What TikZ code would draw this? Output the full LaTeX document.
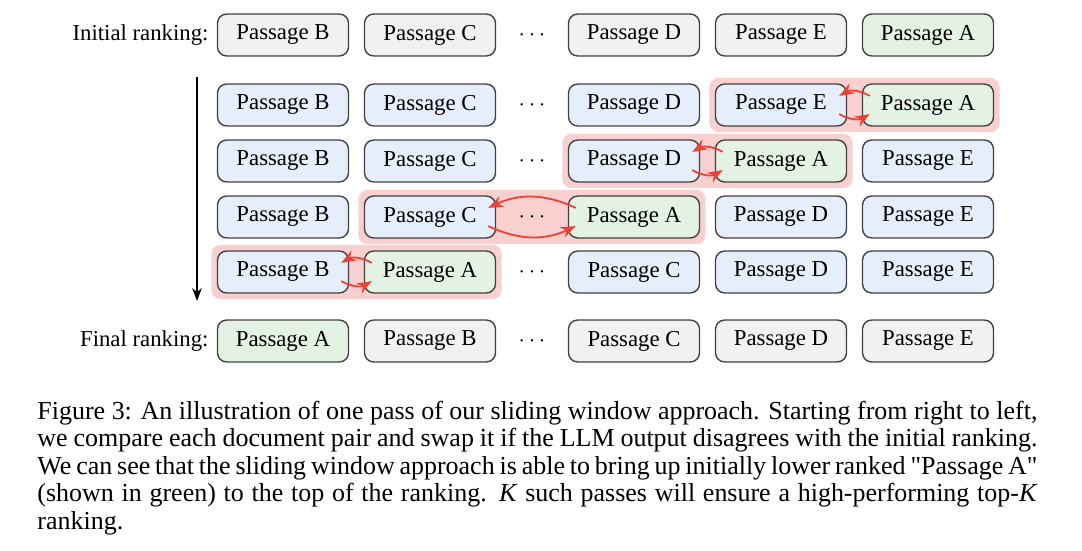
\documentclass[tikz,border=0pt]{standalone}
\usepackage{fontspec}
\setmainfont{Liberation Serif}
\newfontfamily\plainrm{Liberation Serif}
\usepackage{xcolor}
\usetikzlibrary{arrows.meta,positioning,fit,backgrounds}

\definecolor{passgray}{RGB}{240,241,243}
\definecolor{passblue}{RGB}{230,238,251}
\definecolor{passgreen}{RGB}{228,242,228}
\definecolor{winred}{RGB}{249,208,208}
\definecolor{swapred}{RGB}{234,67,53}

\begin{document}
\begin{tikzpicture}[
  x=0.439pt, y=-0.439pt,
  >=Stealth,
  psg/.style={draw=black!75, line width=0.6pt, rounded corners=4pt,
              minimum height=18.4pt, minimum width=57.5pt, inner sep=0pt},
  psggray/.style={psg, fill=passgray},
  psgblue/.style={psg, fill=passblue},
  psggreen/.style={psg, fill=passgreen},
  win/.style={fill=winred, rounded corners=4pt, inner sep=2.4pt},
  swaparr/.style={->, swapred, line width=0.8pt},
  rowlab/.style={anchor=east, inner sep=0pt},
]
\useasboundingbox (0,0) rectangle (1082,551);

% Initial ranking (top)
\node[rowlab] (lab0) at (209,35) {Initial ranking:};
\node[psggray] (i1) at (283,35) {Passage B};
\node[psggray] (i2) at (430,35) {Passage C};
\node (idots) at (532,35) {$\cdots$};
\node[psggray] (i3) at (634,35) {Passage D};
\node[psggray] (i4) at (781,35) {Passage E};
\node[psggreen] (i5) at (928,35) {Passage A};

% Step 1: swap E and A
\node[psgblue] (s1b) at (283,105) {Passage B};
\node[psgblue] (s1c) at (430,105) {Passage C};
\node (s1dots) at (532,105) {$\cdots$};
\node[psgblue] (s1d) at (634,105) {Passage D};
\node[psgblue] (s1e) at (781,105) {Passage E};
\node[psggreen] (s1a) at (928,105) {Passage A};

% Step 2: swap D and A
\node[psgblue] (s2b) at (283,161) {Passage B};
\node[psgblue] (s2c) at (430,161) {Passage C};
\node (s2dots) at (532,161) {$\cdots$};
\node[psgblue] (s2d) at (634,161) {Passage D};
\node[psggreen] (s2a) at (781,161) {Passage A};
\node[psgblue] (s2e) at (928,161) {Passage E};

% Step 3: swap C and A
\node[psgblue] (s3b) at (283,217) {Passage B};
\node[psgblue] (s3c) at (430,217) {Passage C};
\node (s3dots) at (532,217) {$\cdots$};
\node[psggreen] (s3a) at (634,217) {Passage A};
\node[psgblue] (s3d) at (781,217) {Passage D};
\node[psgblue] (s3e) at (928,217) {Passage E};

% Step 4: swap B and A
\node[psgblue] (s4b) at (283,272) {Passage B};
\node[psggreen] (s4a) at (430,272) {Passage A};
\node (s4dots) at (532,272) {$\cdots$};
\node[psgblue] (s4c) at (634,272) {Passage C};
\node[psgblue] (s4d) at (781,272) {Passage D};
\node[psgblue] (s4e) at (928,272) {Passage E};

% Final ranking (bottom)
\node[rowlab] (lab5) at (209,341) {Final ranking:};
\node[psggreen] (f1) at (283,341) {Passage A};
\node[psggray] (f2) at (430,341) {Passage B};
\node (fdots) at (532,341) {$\cdots$};
\node[psggray] (f3) at (634,341) {Passage C};
\node[psggray] (f4) at (781,341) {Passage D};
\node[psggray] (f5) at (928,341) {Passage E};

% Sliding windows
\begin{scope}[on background layer]
  \node[win, fit=(s1e)(s1a)] (w1) {};
  \node[win, fit=(s2d)(s2a)] (w2) {};
  \node[win, fit=(s3c)(s3a)] (w3) {};
  \node[win, fit=(s4b)(s4a)] (w4) {};
\end{scope}

% Swaps
\draw[swaparr] ([xshift=3.5pt,yshift=4pt]s1a.west) to[bend right=30] ([xshift=-3.5pt,yshift=4pt]s1e.east);
\draw[swaparr] ([xshift=-3.5pt,yshift=-4pt]s1e.east) to[bend right=30] ([xshift=3.5pt,yshift=-4pt]s1a.west);
\draw[swaparr] ([xshift=3.5pt,yshift=4pt]s2a.west) to[bend right=30] ([xshift=-3.5pt,yshift=4pt]s2d.east);
\draw[swaparr] ([xshift=-3.5pt,yshift=-4pt]s2d.east) to[bend right=30] ([xshift=3.5pt,yshift=-4pt]s2a.west);
\draw[swaparr] ([xshift=3.5pt,yshift=4pt]s3a.west) to[bend right=25] ([xshift=-3.5pt,yshift=4pt]s3c.east);
\draw[swaparr] ([xshift=-3.5pt,yshift=-4pt]s3c.east) to[bend right=25] ([xshift=3.5pt,yshift=-4pt]s3a.west);
\draw[swaparr] ([xshift=3.5pt,yshift=4pt]s4a.west) to[bend right=30] ([xshift=-3.5pt,yshift=4pt]s4b.east);
\draw[swaparr] ([xshift=-3.5pt,yshift=-4pt]s4b.east) to[bend right=30] ([xshift=3.5pt,yshift=-4pt]s4a.west);

% Pass direction
\coordinate (ptop) at (197,77);
\coordinate (pbot) at (197,301);
\draw[->, line width=0.6pt] (ptop) -- (pbot);

% Caption
\node[anchor=north west, text width=439pt, align=justify, inner sep=0pt,
      font=\fontsize{11.4}{12.05}\selectfont] (cap) at (37,400.5)
  {Figure 3: An illustration of one pass of our sliding window approach. Starting from right to left,\linebreak
   we compare each document pair and swap it if the LLM output disagrees with the initial ranking.\linebreak
   We can see that the sliding window approach is able to bring up initially lower ranked {\plainrm"}Passage A{\plainrm"}\linebreak
   (shown in green) to the top of the ranking. \textit{K} such passes will ensure a high-performing top-\textit{K}\linebreak
   ranking.};
\end{tikzpicture}
\end{document}
